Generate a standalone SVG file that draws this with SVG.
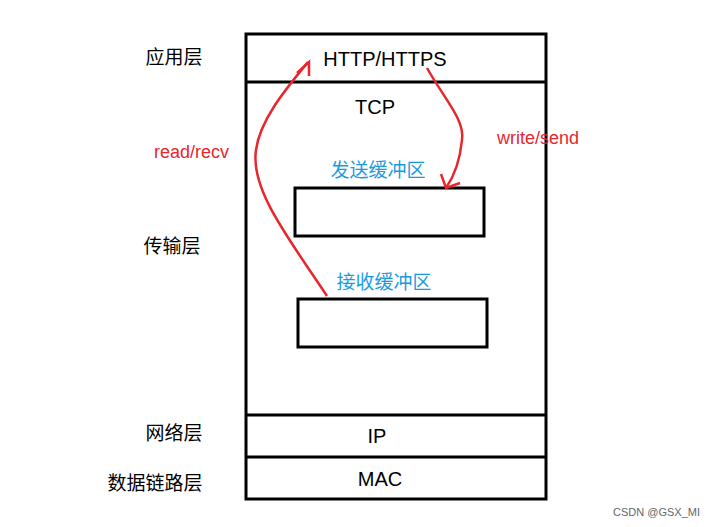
<svg xmlns="http://www.w3.org/2000/svg" width="718" height="527" viewBox="0 0 718 527">
<style>
.b{fill:none;stroke:#000;stroke-width:3}
.t{font-family:"Liberation Sans","Noto Sans CJK SC",sans-serif;font-size:20px;fill:#000}
.c{font-family:"Noto Sans CJK SC",sans-serif;font-size:19px;fill:#000}
.blue{font-family:"Noto Sans CJK SC",sans-serif;font-size:19px;fill:#1a9be0}
.red{font-family:"Liberation Sans",sans-serif;font-size:18px;fill:#e8262c}
.a{fill:none;stroke:#e8262c;stroke-width:2.5}
</style>
<rect width="718" height="527" fill="#fff"/>
<g id="stack">
<rect class="b" x="246" y="34" width="300" height="465"/>
<line class="b" x1="246" y1="82" x2="546" y2="82"/>
<line class="b" x1="246" y1="415" x2="546" y2="415"/>
<line class="b" x1="246" y1="457" x2="546" y2="457"/>
<text class="t" x="385" y="66" text-anchor="middle">HTTP/HTTPS</text>
<text class="t" x="375" y="114" text-anchor="middle">TCP</text>
<text class="t" x="377" y="443" text-anchor="middle">IP</text>
<text class="t" x="380" y="486" text-anchor="middle">MAC</text>
</g>
<g id="labels">
<text class="c" x="174" y="64" text-anchor="middle">应用层</text>
<text class="c" x="172" y="253" text-anchor="middle">传输层</text>
<text class="c" x="174" y="440" text-anchor="middle">网络层</text>
<text class="c" x="155" y="490" text-anchor="middle">数据链路层</text>
</g>
<g id="sendbuf">
<text class="blue" x="378" y="177" text-anchor="middle">发送缓冲区</text>
<rect class="b" x="295" y="188" width="189" height="48"/>
</g>
<g id="recvbuf">
<text class="blue" x="384" y="289" text-anchor="middle">接收缓冲区</text>
<rect class="b" x="298" y="299" width="189" height="48"/>
</g>
<g id="connectors">
<path class="a" d="M327,296 C290,240 250,190 256,150 C260,120 285,90 308,62"/>
<path class="a" d="M297,73 L309,62 L309,76"/>
<path class="a" d="M427,68 C445,100 465,120 462,140 C460,160 455,175 446,188"/>
<path class="a" d="M441,174 L446,188 L460,183"/>
<text class="red" x="154" y="158">read/recv</text>
<text class="red" x="497" y="144">write/send</text>
</g>
<text x="700" y="516" text-anchor="end" font-family="Liberation Sans,sans-serif" font-size="11" fill="#666">CSDN @GSX_MI</text>
</svg>
